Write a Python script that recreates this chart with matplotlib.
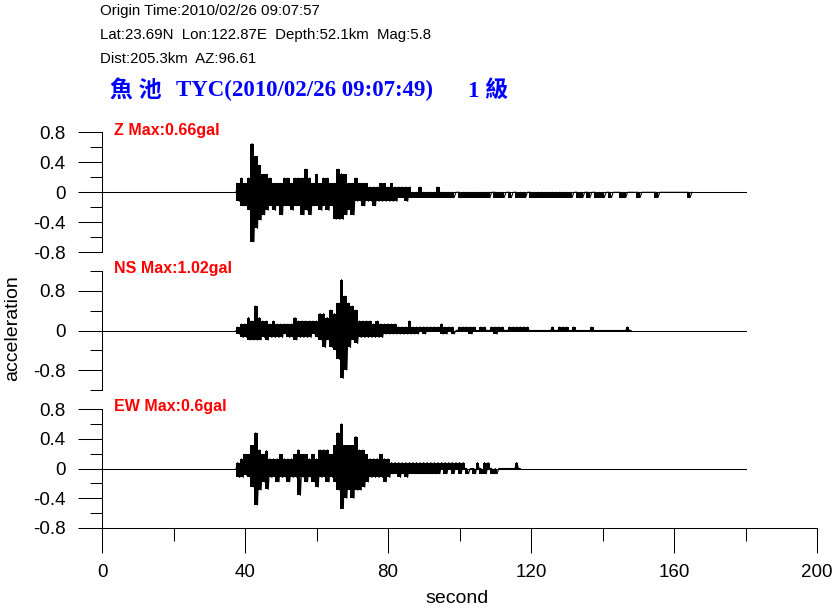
import numpy as np
import matplotlib
matplotlib.use("Agg")
import matplotlib.pyplot as plt

plt.rcParams["font.family"] = ["Liberation Sans", "DejaVu Sans"]

# ---- data: per-second peak (hi) and trough (lo) of each trace, in 0.01 gal ----
T0 = 38       # first second with motion
T_END = 180   # trace length (s)

Z_HI = [12, 19, 12, 19, 65, 48, 36, 24, 24, 19,
        12, 12, 12, 19, 19, 12, 19, 19, 19, 31,
        19, 12, 24, 12, 19, 19, 12, 12, 31, 25,
        24, 12, 12, 19, 12, 12, 12, 7, 7, 7,
        12, 12, 7, 12, 7, 7, 7, 7, 7, 0,
        0, 7, 0, 0, 0, 0, 7, 0, 0, 0,
        0, 0, 0, 0, 0, 0, 0, 0, 0, 0,
        0, 0, 0, 0, 0, 0, 0, 0, 0, 0,
        0, 0, 0, 0, 0, 0, 0, 0, 0, 0,
        0, 0, 0, 0, 0, 0, 0, 0, 0, 0,
        0, 0, 0, 0, 0, 0, 0, 0, 0, 0,
        0, 0, 0, 0, 0, 0, 0, 0, 0, 0,
        0, 0, 0, 0, 0, 0, 0]
Z_LO = [-12, -18, -18, -24, -66, -48, -37, -30, -24, -18,
        -24, -18, -30, -18, -18, -24, -18, -18, -30, -24,
        -30, -18, -18, -24, -18, -24, -18, -36, -36, -36,
        -30, -24, -30, -12, -12, -18, -12, -12, -18, -12,
        -12, -12, -12, -12, -12, -7, -7, -12, -7, -7,
        -7, -7, -7, -7, -7, -7, -7, -7, -7, -7,
        -7, 0, -7, -7, -7, -7, -7, -7, -7, -7,
        -7, 0, -7, -7, -7, 0, -7, 0, -7, -7,
        -7, 0, -7, -7, -7, -7, -7, -7, -7, -7,
        -7, -7, -7, -7, 0, -7, -7, 0, -7, 0,
        -7, -7, -7, 0, -7, 0, 0, -7, -7, 0,
        0, 0, -7, 0, 0, 0, 0, -7, 0, 0,
        0, 0, 0, 0, 0, 0, -7]

NS_HI = [7, 13, 13, 26, 19, 49, 26, 19, 19, 13,
         19, 13, 13, 13, 13, 13, 26, 19, 19, 19,
         19, 19, 19, 34, 34, 26, 41, 34, 55, 102,
         69, 55, 49, 41, 19, 19, 19, 19, 13, 19,
         13, 13, 13, 13, 13, 7, 7, 7, 19, 7,
         7, 7, 7, 7, 7, 7, 7, 13, 7, 7,
         7, 0, 7, 7, 7, 7, 7, 0, 7, 7,
         0, 7, 7, 7, 7, 0, 7, 7, 7, 7,
         7, 7, 0, 0, 0, 0, 0, 0, 7, 0,
         7, 7, 7, 0, 7, 0, 0, 0, 0, 7,
         0, 0, 0, 0, 0, 0, 0, 0, 0, 7]
NS_LO = [-7, -14, -14, -19, -19, -19, -19, -14, -19, -14,
         -14, -14, -14, -7, -14, -14, -19, -14, -14, -14,
         -14, -7, -14, -19, -34, -19, -34, -39, -58, -96,
         -79, -34, -19, -26, -14, -14, -14, -14, -14, -14,
         -14, -7, -7, -7, -7, -7, -7, -7, -7, -7,
         -7, 0, -7, 0, 0, 0, 0, -7, -7, 0,
         -7, 0, 0, 0, 0, -7, 0, 0, 0, 0,
         0, 0, -7, 0, 0, 0, 0, 0, 0, 0,
         0, 0, 0, 0, 0, 0, 0, 0, 0, 0,
         0, 0, 0, 0, 0, 0, 0, 0, 0, 0,
         0, 0, 0, 0, 0, 0, 0, 0, 0, 0]

EW_HI = [8, 13, 19, 19, 31, 48, 25, 19, 24, 13,
         13, 13, 19, 13, 13, 13, 19, 25, 19, 19,
         13, 19, 13, 25, 25, 25, 19, 31, 48, 60,
         31, 31, 31, 43, 25, 25, 19, 13, 13, 13,
         19, 13, 13, 8, 8, 8, 8, 8, 8, 8,
         8, 8, 8, 8, 8, 8, 8, 8, 8, 8,
         8, 8, 8, 8, 0, 0, 0, 8, 0, 8,
         8, 0, 0, 0, 0, 0, 0, 0, 8]
EW_LO = [-12, -12, -9, -12, -25, -49, -29, -18, -28, -12,
         -12, -18, -12, -12, -18, -12, -12, -36, -12, -18,
         -12, -18, -25, -12, -12, -18, -12, -18, -29, -54,
         -40, -29, -40, -29, -29, -25, -18, -12, -12, -12,
         -12, -18, -12, -7, -7, -12, -7, -12, -7, -7,
         -7, -7, -7, -7, -7, -7, -7, 0, -7, 0,
         -7, 0, -7, 0, -7, 0, -7, 0, -7, -7,
         0, -7, -7, 0, 0, 0, 0, 0, 0]

PANEL_LABELS = ["Z Max:0.66gal", "NS Max:1.02gal", "EW Max:0.6gal"]
HEADER = ["Origin Time:2010/02/26 09:07:57",
          "Lat:23.69N  Lon:122.87E  Depth:52.1km  Mag:5.8",
          "Dist:205.3km  AZ:96.61"]
X_TICKS = [0, 40, 80, 120, 160, 200]
X_MINOR = [20, 60, 100, 140, 180]

W, H = 835, 609


def fx(px):
    return px / W


def fy(py):
    return 1 - py / H


def trace_xy(hi, lo):
    """Interleave per-second peaks and troughs into a seismogram-like polyline."""
    t = T0 + np.arange(len(hi))
    x = np.column_stack([t, t + 0.5]).ravel()
    y = np.column_stack([hi, lo]).ravel() / 100.0
    x = np.concatenate([[T0 - 0.5], x, [t[-1] + 1]])
    y = np.concatenate([[0], y, [0]])
    return x, y


fig = plt.figure(figsize=(W / 100, H / 100), dpi=100)

# (hi, lo, ylim, major ticks, minor ticks, top px, bottom px, label baseline px)
panels = [
    (Z_HI, Z_LO, 0.8, [-0.8, -0.4, 0, 0.4, 0.8], [-0.6, -0.2, 0.2, 0.6], 132.3, 252.3, 135),
    (NS_HI, NS_LO, 1.2, [-0.8, 0, 0.8], [-1.2, -0.4, 0.4, 1.2], 270.7, 390.3, 272.7),
    (EW_HI, EW_LO, 0.8, [-0.8, -0.4, 0, 0.4, 0.8], [-0.6, -0.2, 0.2, 0.6], 409, 528, 411),
]

for i, (hi, lo, lim, major, minor, top, bot, lab_y) in enumerate(panels):
    ax = fig.add_axes([fx(102), fy(bot), fx(817) - fx(102), (bot - top) / H])
    ax.plot([0, T_END], [0, 0], color="black", lw=0.75)  # baseline
    # per-second min/max columns, then the peak/trough polyline on top
    t = T0 + np.arange(len(hi))
    lo_g = np.asarray(lo) / 100.0
    hi_g = np.asarray(hi) / 100.0
    ax.bar(t, hi_g - lo_g, bottom=lo_g, width=1.0, color="black", linewidth=0)
    x, y = trace_xy(hi, lo)
    ax.plot(x, y, color="black", lw=0.8)
    ax.set_xlim(0, 200)
    ax.set_ylim(-lim, lim)
    ax.set_facecolor("none")
    for s in ("top", "right"):
        ax.spines[s].set_visible(False)
    for s in ax.spines.values():
        s.set_linewidth(0.75)
    ax.set_yticks(major)
    ax.set_yticklabels(["0" if v == 0 else f"{v:g}" for v in major])
    ax.set_yticks(minor, minor=True)
    ax.tick_params(axis="y", which="major", direction="out", length=17.3,
                   width=0.75, labelsize=13.5, pad=9)
    ax.tick_params(axis="y", which="minor", direction="out", length=8.6, width=0.75)
    if i < 2:
        ax.spines["bottom"].set_visible(False)
        ax.set_xticks([])
    else:
        ax.set_xticks(X_TICKS)
        ax.set_xticks(X_MINOR, minor=True)
        ax.tick_params(axis="x", which="major", direction="out", length=17.8,
                       width=0.75, labelsize=13.5, pad=8)
        ax.tick_params(axis="x", which="minor", direction="out", length=9.1, width=0.75)
    fig.text(fx(114), fy(lab_y), PANEL_LABELS[i], color="#ff0000", fontsize=11.5,
             fontweight="bold", va="baseline")

for k, line in enumerate(HEADER):
    fig.text(fx(100), fy(15 + 24 * k), line, fontsize=10.8, va="baseline")

title_font = dict(color="#0000ff", fontsize=16.5, fontweight="bold", va="baseline",
                  family=["Liberation Serif", "Noto Sans CJK TC"])
fig.text(fx(110), fy(96.5), "魚 池", **title_font)
fig.text(fx(176), fy(96.5), "TYC(2010/02/26 09:07:49)", **title_font)
fig.text(fx(468), fy(96.5), "1 級", **title_font)

fig.text(fx(13), fy(328), "acceleration", rotation=90, ha="center", va="center", fontsize=14)
fig.text(fx(457), fy(603), "second", ha="center", va="baseline", fontsize=14)

fig.savefig("out.png", dpi=100)
